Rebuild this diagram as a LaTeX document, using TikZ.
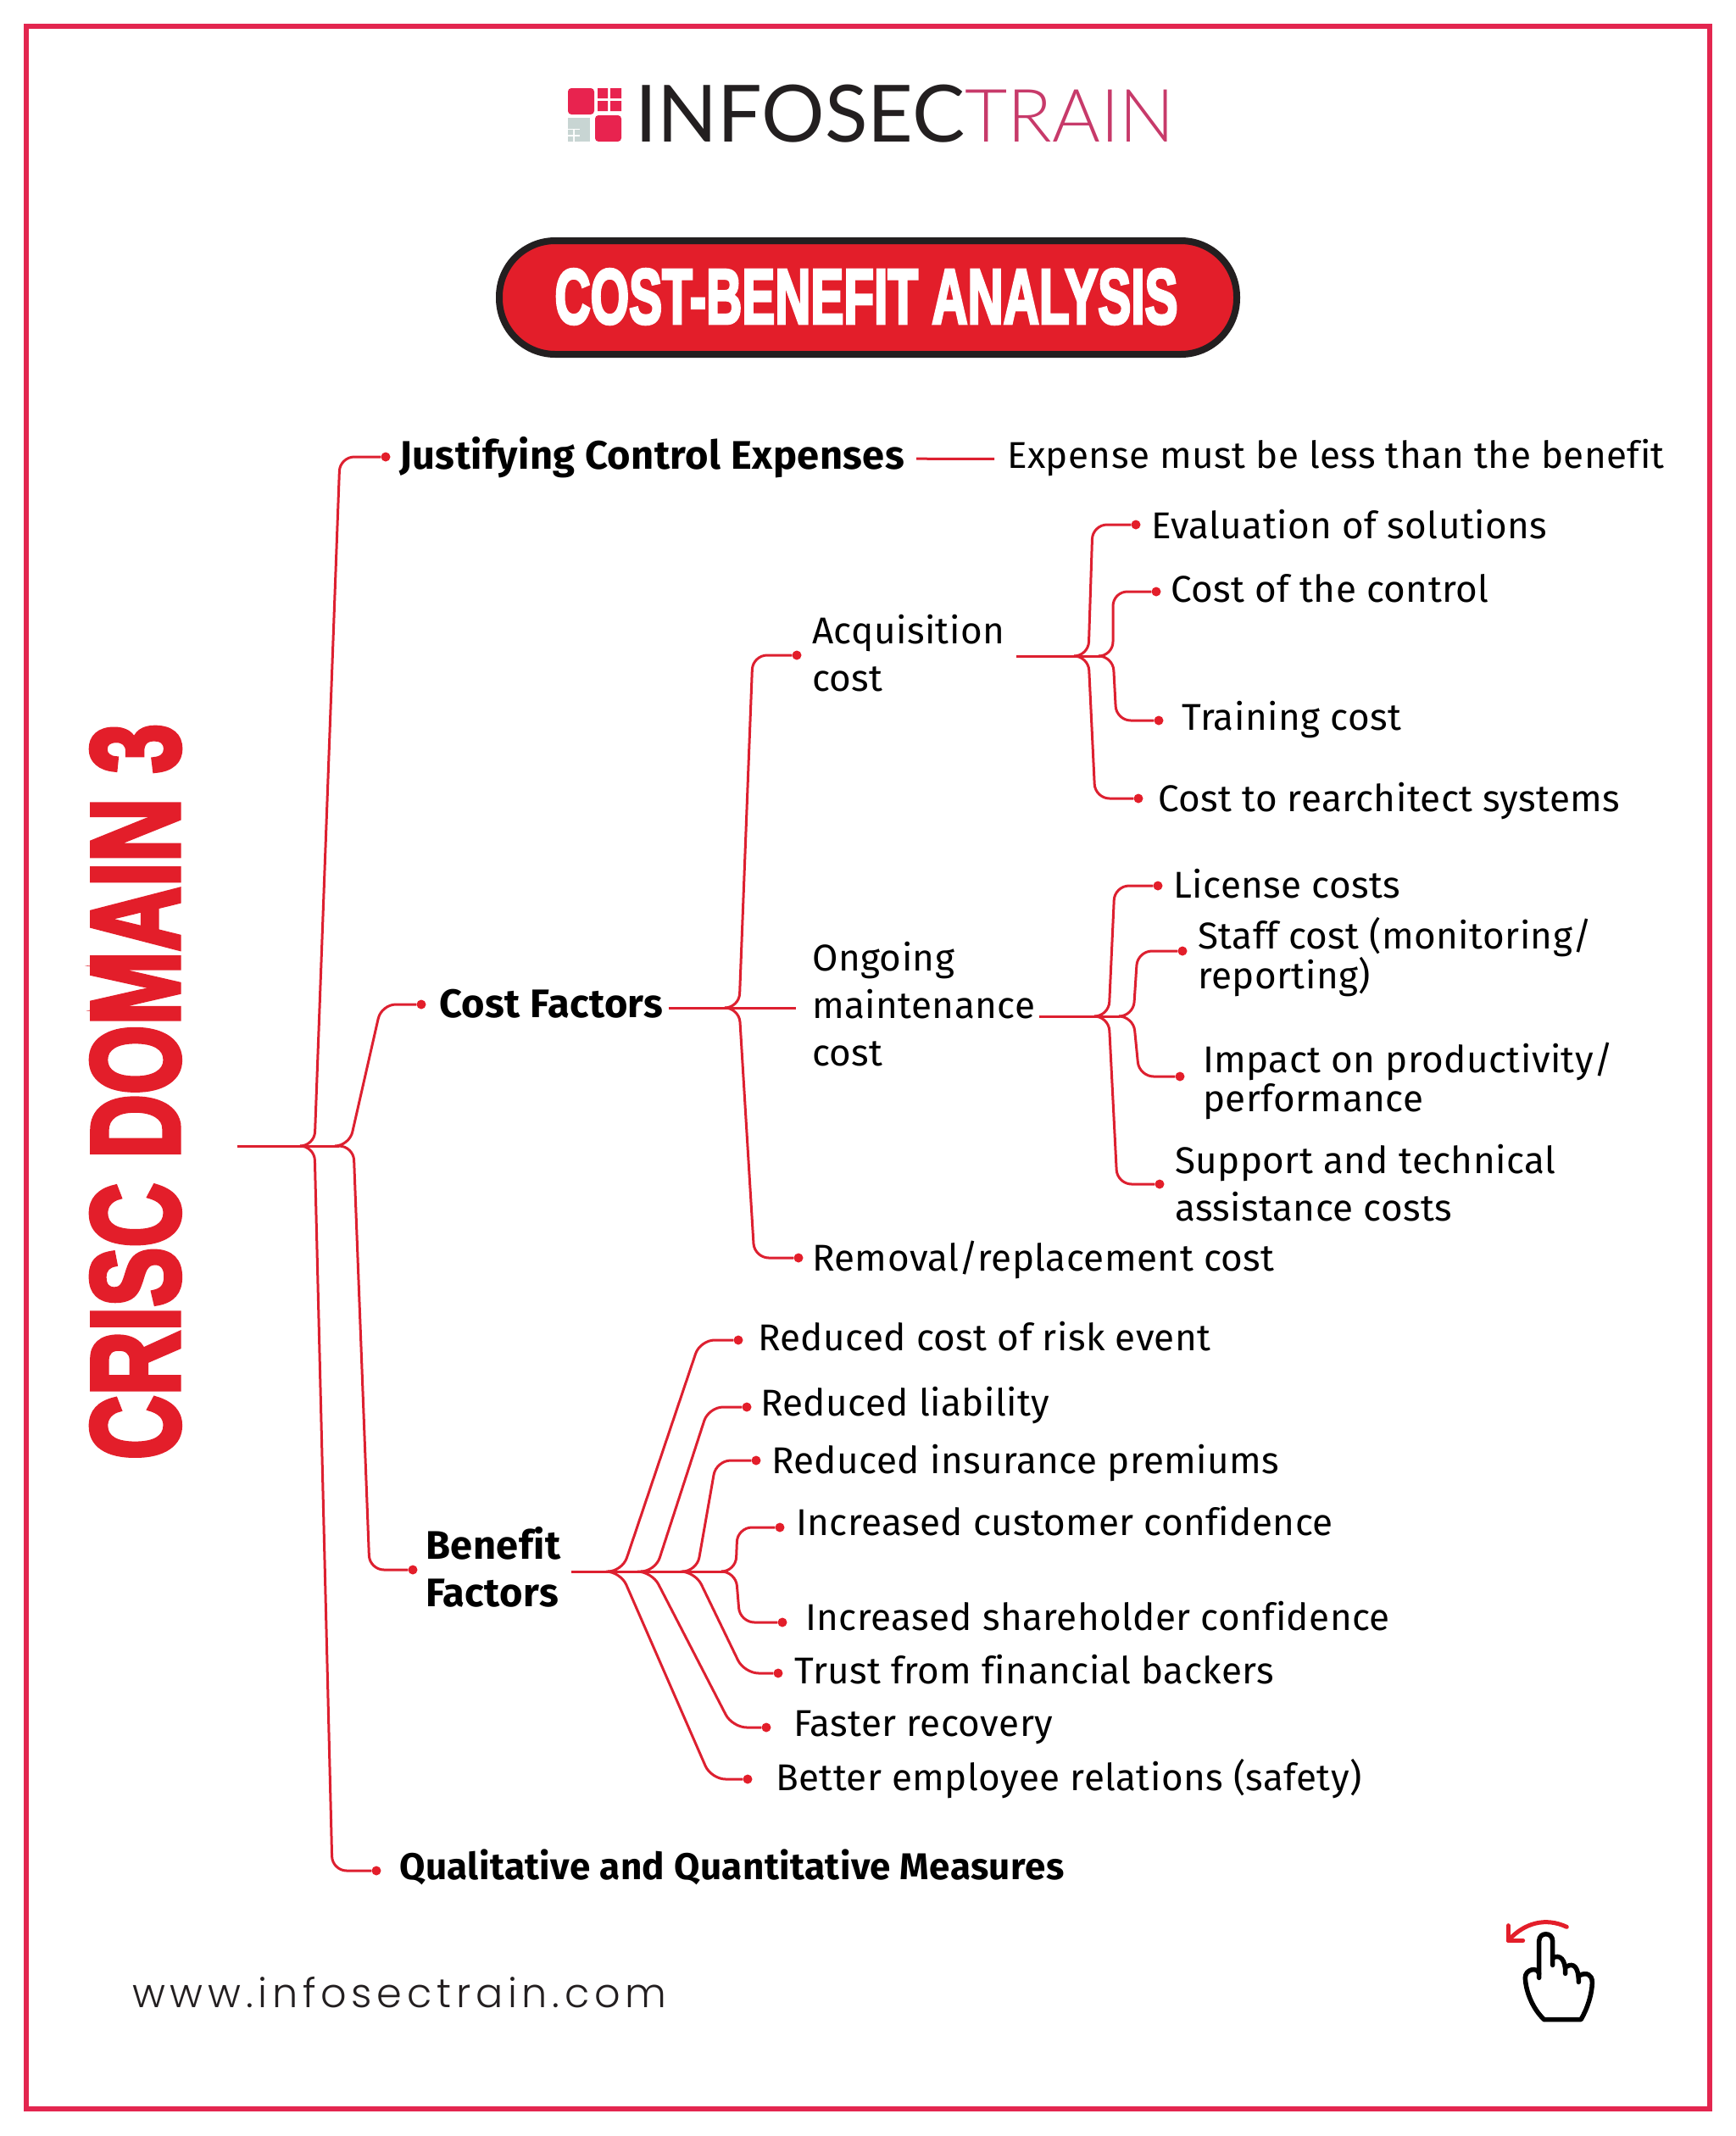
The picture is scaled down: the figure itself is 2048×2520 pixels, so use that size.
\documentclass[tikz,border=0pt]{standalone}
\usepackage{graphicx}
\usepackage{fontspec}
\setmainfont[LetterSpace=1,Ligatures=NoCommon]{Fira Sans}
\newfontfamily\heavyfont[FakeBold=4]{Liberation Sans}
\newfontfamily\logofont{Lato}
\newfontfamily\logolight{Lato Light}
\newfontfamily\webfont[LetterSpace=12]{Poppins Light}
\definecolor{framered}{HTML}{E3264F}
\definecolor{pillred}{HTML}{E31E2A}
\definecolor{linkred}{HTML}{DD2030}
\definecolor{logored}{HTML}{E8234F}
\definecolor{logogray}{HTML}{C8D5D3}
\definecolor{trainred}{HTML}{C73A6A}
\definecolor{inkdark}{HTML}{231F20}
\newcommand{\twig}[4]{\draw[twig] (#1) -- (#2,0 |- #1) -- (#3,0 |- #4) -- (#4);}
\tikzset{
  twig/.style={linkred,line width=3pt,rounded corners=17pt},
  dot/.style={circle,fill=pillred,inner sep=0pt,minimum size=11pt},
  leaf/.style={anchor=base west,inner sep=0pt,text=black,font=\fontsize{44}{56}\selectfont},
  block/.style={anchor=west,inner sep=0pt,align=left,text=black,font=\fontsize{44}{56}\selectfont},
  head/.style={anchor=base west,inner sep=0pt,text=black,font=\fontsize{47}{56}\selectfont\bfseries},
  tile/.style={fill=logored,rounded corners=4pt}
}
\begin{document}
\begin{tikzpicture}[x=1pt,y=-1pt]
\useasboundingbox (0,0) rectangle (2048,2520);
\draw[framered,line width=6pt] (31,31) rectangle (2017,2488);
% logo
\fill[tile] (670,104) rectangle (701,135);
\fill[logored] (705,104) rectangle (717,116) (720,104) rectangle (733,116);
\fill[logored] (705,119) rectangle (717,131) (720,119) rectangle (733,131);
\fill[logogray] (670,139) rectangle (696,167);
\fill[tile] (702,136) rectangle (733,167);
\fill[white] (669,152) rectangle (684,168);
\fill[logogray] (670,153) rectangle (676,159) (678,153) rectangle (684,159);
\fill[logogray] (670,161) rectangle (676,167) (678,161) rectangle (684,167);
\node[anchor=base west,inner sep=0pt,text=inkdark] (infosec) at (749,167) {\resizebox{389pt}{!}{\logofont INFOSEC}};
\node[anchor=base west,inner sep=0pt,text=trainred] (train) at (1138,167) {\resizebox{248pt}{!}{\logolight TRAIN}};
% title
\node[draw=inkdark,fill=pillred,line width=8pt,rounded corners=66pt,minimum width=870pt,minimum height=134pt] (title) at (1024,351) {};
\node[text=white,inner sep=0pt] (titletext) at (1022,350) {\resizebox{735pt}{64pt}{\heavyfont\bfseries COST-BENEFIT ANALYSIS}};
\node[text=pillred,inner sep=0pt,rotate=90] (crisc) at (160,1288) {\resizebox{868pt}{103pt}{\heavyfont\bfseries CRISC DOMAIN 3}};
% first level
\coordinate (jmain) at (357,1352);
\coordinate (jmainb) at (400,1352);
\node[dot] (djust) at (455,539) {};
\node[dot] (dcost) at (497,1185) {};
\node[dot] (dbenefit) at (487,1852) {};
\node[dot] (dquality) at (444,2207) {};
\node[head] (just) at (471,553) {Justifying Control Expenses};
\node[leaf] (expense) at (1188,552) {Expense must be less than the benefit};
\node[head] (cost) at (518,1200) {Cost Factors};
\node[block,font=\fontsize{47}{56}\selectfont\bfseries] (benefit) at (502,1849) {Benefit\\Factors};
\node[head,font=\fontsize{44}{56}\selectfont\bfseries] (quality) at (471,2217) {Qualitative and Quantitative Measures};
\draw[twig,shorten <=67pt] (crisc.south |- jmain) -- (jmainb);
\twig{jmain}{371}{401}{djust}
\twig{jmain}{371}{392}{dquality}
\twig{jmainb}{412}{450}{dcost}
\twig{jmainb}{417}{436}{dbenefit}
\draw[linkred,line width=3pt,shorten <=14pt,shorten >=15pt] ([yshift=-2pt]just.east) -- ([yshift=-2pt]expense.west);
% cost factors
\coordinate (jcost) at (860,1189);
\node[dot] (dacq) at (940,773) {};
\node[dot] (dremoval) at (942,1484) {};
\node[block] (acq) at (958,771) {Acquisition\\cost};
\node[block] (ongoing) at (958,1185) {Ongoing\\maintenance\\cost};
\node[leaf] (removal) at (958,1499) {Removal/replacement cost};
\draw[twig,shorten <=6pt,shorten >=19pt] (cost.east |- jcost) -- (ongoing.west |- jcost);
\twig{jcost}{872}{888}{dacq}
\twig{jcost}{872}{890}{dremoval}
% acquisition cost
\coordinate (jacq) at (1270,774);
\coordinate (jacqb) at (1298,774);
\node[dot] (deval) at (1340,619) {};
\node[dot] (dcontrol) at (1364,698) {};
\node[dot] (dtraining) at (1367,850) {};
\node[dot] (drearch) at (1343,942) {};
\node[leaf] (eval) at (1358,635) {Evaluation of solutions};
\node[leaf] (control) at (1381,710) {Cost of the control};
\node[leaf] (training) at (1394,861) {Training cost};
\node[leaf] (rearch) at (1366,957) {Cost to rearchitect systems};
\draw[twig,shorten <=14pt] (acq.east |- jacq) -- (jacqb);
\twig{jacq}{1284}{1289}{deval}
\twig{jacq}{1284}{1292}{drearch}
\twig{jacqb}{1313}{1313}{dcontrol}
\twig{jacqb}{1313}{1317}{dtraining}
% ongoing maintenance cost
\coordinate (jmaint) at (1296,1199);
\coordinate (jmaintb) at (1321,1199);
\node[dot] (dlicense) at (1366,1045) {};
\node[dot] (dstaff) at (1395,1122) {};
\node[dot] (dimpact) at (1392,1270) {};
\node[dot] (dsupport) at (1368,1397) {};
\node[leaf] (license) at (1384,1059) {License costs};
\node[block,font=\fontsize{44}{47}\selectfont] (staff) at (1413,1129) {Staff cost (monitoring/\\reporting)};
\node[block,font=\fontsize{44}{46}\selectfont] (impact) at (1419,1275) {Impact on productivity/\\performance};
\node[block] (support) at (1386,1396) {Support and technical\\assistance costs};
\draw[twig,shorten <=5pt] (ongoing.east |- jmaint) -- (jmaintb);
\twig{jmaint}{1308}{1315}{dlicense}
\twig{jmaint}{1308}{1318}{dsupport}
\twig{jmaintb}{1337}{1342}{dstaff}
\twig{jmaintb}{1337}{1344}{dimpact}
% benefit factors
\coordinate (jbone) at (725,1854);
\coordinate (jbtwo) at (763,1854);
\coordinate (jbthree) at (810,1854);
\coordinate (jbfour) at (853,1854);
\node[dot] (dredcost) at (871,1581) {};
\node[dot] (dredliab) at (881,1660) {};
\node[dot] (dredins) at (892,1723) {};
\node[dot] (dcustomer) at (920,1802) {};
\node[dot] (dshare) at (923,1914) {};
\node[dot] (dtrust) at (918,1974) {};
\node[dot] (dfaster) at (904,2038) {};
\node[dot] (dbetter) at (882,2099) {};
\node[leaf] (redcost) at (894,1593) {Reduced cost of risk event};
\node[leaf] (redliab) at (897,1670) {Reduced liability};
\node[leaf] (redins) at (910,1738) {Reduced insurance premiums};
\node[leaf] (customer) at (939,1811) {Increased customer confidence};
\node[leaf] (share) at (950,1923) {Increased shareholder confidence};
\node[leaf] (trust) at (937,1986) {Trust from financial backers};
\node[leaf] (faster) at (936,2048) {Faster recovery};
\node[leaf] (better) at (915,2112) {Better employee relations (safety)};
\draw[twig,shorten <=13pt] (benefit.east |- jbone) -- (jbfour);
\twig{jbone}{734}{826}{dredcost}
\twig{jbtwo}{773}{836}{dredliab}
\twig{jbthree}{822}{845}{dredins}
\twig{jbfour}{868}{870}{dcustomer}
\twig{jbfour}{868}{873}{dshare}
\twig{jbthree}{820}{878}{dtrust}
\twig{jbtwo}{769}{864}{dfaster}
\twig{jbone}{732}{839}{dbetter}
% footer
\node[anchor=base west,inner sep=0pt,text=inkdark] (web) at (156,2368) {\resizebox{630pt}{!}{\webfont www.infosectrain.com}};
% hand
\begin{scope}[shift={(1720,2230)},x=0.3333pt,y=-0.3333pt,line cap=round,line join=round]
\draw[pillred,line width=5pt] (385,130) .. controls (310,95) and (235,115) .. (178,178);
\draw[pillred,line width=5pt] (178,125) -- (178,178) -- (230,178);
\draw[black,line width=5.5pt] (287,310) -- (287,180) .. controls (287,147) and (335,147) .. (335,180) -- (335,265);
\draw[black,line width=5.5pt] (335,240) .. controls (360,225) and (382,245) .. (380,295);
\draw[black,line width=5.5pt] (385,270) .. controls (410,255) and (428,275) .. (427,325);
\draw[black,line width=5.5pt] (430,302) .. controls (455,288) and (475,300) .. (475,325) .. controls (475,370) and (455,425) .. (435,458) -- (305,458) .. controls (265,420) and (240,360) .. (238,310) .. controls (238,280) and (280,270) .. (287,295);
\end{scope}
\end{tikzpicture}
\end{document}
